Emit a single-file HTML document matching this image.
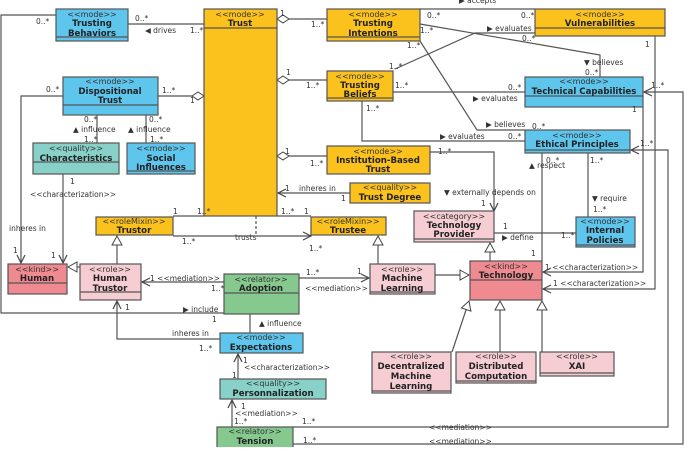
<!DOCTYPE html>
<html><head><meta charset="utf-8"><style>
html,body{margin:0;padding:0;background:#fff}
svg text{font-family:"DejaVu Sans","Liberation Sans",sans-serif;fill:#333}
.s{font-size:8px}
.n{font-size:8.6px;font-weight:bold;fill:#222}
.l{font-size:7.5px}
</style></head><body>
<svg width="685" height="447" viewBox="0 0 685 447" xmlns="http://www.w3.org/2000/svg">
<defs>
<marker id="a" markerWidth="10" markerHeight="10" refX="9" refY="5" orient="auto" markerUnits="userSpaceOnUse"><path d="M1,1 L9,5 L1,9" fill="none" stroke="#444" stroke-width="1.2"/></marker>
<marker id="t" markerWidth="12" markerHeight="12" refX="10" refY="6" orient="auto" markerUnits="userSpaceOnUse"><path d="M1,1 L10,6 L1,11 Z" fill="#fff" stroke="#444" stroke-width="1"/></marker>
<marker id="d" markerWidth="14" markerHeight="10" refX="13" refY="5" orient="auto" markerUnits="userSpaceOnUse"><path d="M1,5 L7,1 L13,5 L7,9 Z" fill="#fff" stroke="#444" stroke-width="1"/></marker>
</defs>
<g fill="none" stroke="#555" stroke-width="1.2">
<polyline points="56,15 1,15 1,313 224,313"/>
<line x1="128" y1="24" x2="204" y2="24"/>
<line x1="327" y1="19" x2="277" y2="19" marker-end="url(#d)"/>
<line x1="327" y1="80" x2="277" y2="80" marker-end="url(#d)"/>
<line x1="158" y1="96" x2="204" y2="96" marker-end="url(#d)"/>
<line x1="327" y1="156" x2="277" y2="156" marker-end="url(#d)"/>
<line x1="350" y1="193" x2="278" y2="193" marker-end="url(#a)"/>
<line x1="420" y1="9" x2="535" y2="9"/>
<polyline points="420,24 600,55 600,77"/>
<polyline points="395,69 475,33 535,33"/>
<polyline points="420,41 477,130 525,130"/>
<line x1="393" y1="92" x2="525" y2="92"/>
<polyline points="362,101 362,141 525,141"/>
<polyline points="430,152 494,152 494,211" marker-end="url(#a)"/>
<polyline points="643,107 643,272 543,272" marker-end="url(#a)"/>
<polyline points="655,36 655,289 543,289" marker-end="url(#a)"/>
<polyline points="293,427 668,427 668,150 631,150" marker-end="url(#a)"/>
<polyline points="293,444 683,444 683,92 644,92" marker-end="url(#a)"/>
<line x1="542" y1="153" x2="542" y2="261"/>
<line x1="494" y1="233" x2="576" y2="233"/>
<line x1="588" y1="153" x2="588" y2="217"/>
<line x1="173" y1="216" x2="204" y2="216"/>
<line x1="277" y1="216" x2="311" y2="216"/>
<line x1="256" y1="216" x2="256" y2="236" stroke-dasharray="3,2"/>
<line x1="173" y1="236" x2="311" y2="236" marker-end="url(#a)"/>
<line x1="117" y1="264" x2="117" y2="236" marker-end="url(#t)"/>
<line x1="80" y1="267" x2="68" y2="267" marker-end="url(#t)"/>
<polyline points="63,96 21,96 21,263" marker-end="url(#a)"/>
<line x1="63" y1="174" x2="63" y2="263" marker-end="url(#a)"/>
<line x1="97" y1="115" x2="97" y2="143"/>
<line x1="146" y1="115" x2="146" y2="143"/>
<line x1="224" y1="282" x2="142" y2="282" marker-end="url(#a)"/>
<line x1="299" y1="278" x2="369" y2="278" marker-end="url(#a)"/>
<line x1="378" y1="264" x2="378" y2="236" marker-end="url(#t)"/>
<line x1="435" y1="275" x2="469" y2="275" marker-end="url(#t)"/>
<line x1="490" y1="261" x2="490" y2="243" marker-end="url(#t)"/>
<line x1="452" y1="352" x2="469" y2="301" marker-end="url(#t)"/>
<line x1="500" y1="352" x2="500" y2="301" marker-end="url(#t)"/>
<line x1="542" y1="352" x2="542" y2="301" marker-end="url(#t)"/>
<line x1="250" y1="314" x2="250" y2="333"/>
<polyline points="220,339 117,339 117,301" marker-end="url(#a)"/>
<line x1="238" y1="379" x2="238" y2="354" marker-end="url(#a)"/>
<line x1="232" y1="427" x2="232" y2="400" marker-end="url(#a)"/>
</g>
<g stroke="#555" stroke-width="1.2">
<rect x="56" y="9" width="72" height="32" fill="#5ec5ec"/><line x1="56" y1="37" x2="128" y2="37"/>
<rect x="204" y="9" width="73" height="207" fill="#fbc21e"/><line x1="204" y1="28" x2="277" y2="28"/>
<rect x="327" y="9" width="93" height="32" fill="#fbc21e"/><line x1="327" y1="37" x2="420" y2="37"/>
<rect x="535" y="9" width="130" height="27" fill="#fbc21e"/><line x1="535" y1="28" x2="665" y2="28"/>
<rect x="63" y="77" width="95" height="38" fill="#5ec5ec"/><line x1="63" y1="105" x2="158" y2="105"/>
<rect x="327" y="71" width="66" height="30" fill="#fbc21e"/><line x1="327" y1="98" x2="393" y2="98"/>
<rect x="525" y="77" width="118" height="30" fill="#5ec5ec"/><line x1="525" y1="96" x2="643" y2="96"/>
<rect x="33" y="143" width="86" height="31" fill="#88d1c9"/><line x1="33" y1="162" x2="119" y2="162"/>
<rect x="127" y="143" width="68" height="31" fill="#5ec5ec"/><line x1="127" y1="171" x2="195" y2="171"/>
<rect x="327" y="146" width="103" height="28" fill="#fbc21e"/>
<rect x="525" y="130" width="105" height="23" fill="#5ec5ec"/><line x1="525" y1="150" x2="630" y2="150"/>
<rect x="350" y="183" width="80" height="20" fill="#fbc21e"/>
<rect x="96" y="217" width="77" height="18" fill="#fbc21e"/>
<rect x="311" y="217" width="75" height="18" fill="#fbc21e"/>
<rect x="414" y="211" width="80" height="31" fill="#f5cdd3"/><line x1="414" y1="239" x2="494" y2="239"/>
<rect x="576" y="217" width="59" height="30" fill="#5ec5ec"/><line x1="576" y1="245" x2="635" y2="245"/>
<rect x="8" y="264" width="59" height="30" fill="#ee8a90"/><line x1="8" y1="283" x2="67" y2="283"/>
<rect x="80" y="264" width="61" height="36" fill="#f5cdd3"/><line x1="80" y1="292" x2="141" y2="292"/>
<rect x="224" y="274" width="75" height="40" fill="#86c98f"/><line x1="224" y1="293" x2="299" y2="293"/>
<rect x="370" y="264" width="65" height="30" fill="#f5cdd3"/><line x1="370" y1="292" x2="435" y2="292"/>
<rect x="470" y="261" width="72" height="39" fill="#ee8a90"/><line x1="470" y1="280" x2="542" y2="280"/>
<rect x="220" y="333" width="83" height="20" fill="#5ec5ec"/>
<rect x="220" y="379" width="106" height="20" fill="#88d1c9"/>
<rect x="217" y="427" width="76" height="22" fill="#86c98f"/>
<rect x="372" y="352" width="79" height="41" fill="#f5cdd3"/><line x1="372" y1="391" x2="451" y2="391"/>
<rect x="456" y="352" width="80" height="31" fill="#f5cdd3"/><line x1="456" y1="381" x2="536" y2="381"/>
<rect x="540" y="352" width="74" height="24" fill="#f5cdd3"/><line x1="540" y1="373" x2="614" y2="373"/>
</g>
<g text-anchor="middle">
<text class="s" x="92" y="17">&lt;&lt;mode&gt;&gt;</text><text class="n" x="92" y="26">Trusting</text><text class="n" x="92" y="36">Behaviors</text>
<text class="s" x="240" y="17">&lt;&lt;mode&gt;&gt;</text><text class="n" x="240" y="26">Trust</text>
<text class="s" x="373" y="17">&lt;&lt;mode&gt;&gt;</text><text class="n" x="373" y="26">Trusting</text><text class="n" x="373" y="36">Intentions</text>
<text class="s" x="600" y="17">&lt;&lt;mode&gt;&gt;</text><text class="n" x="600" y="26">Vulnerabilities</text>
<text class="s" x="110" y="84">&lt;&lt;mode&gt;&gt;</text><text class="n" x="110" y="94">Dispositional</text><text class="n" x="110" y="103">Trust</text>
<text class="s" x="360" y="79">&lt;&lt;mode&gt;&gt;</text><text class="n" x="360" y="88">Trusting</text><text class="n" x="360" y="97">Beliefs</text>
<text class="s" x="584" y="84">&lt;&lt;mode&gt;&gt;</text><text class="n" x="584" y="94">Technical Capabilities</text>
<text class="s" x="76" y="151">&lt;&lt;quality&gt;&gt;</text><text class="n" x="76" y="161">Characteristics</text>
<text class="s" x="161" y="151">&lt;&lt;mode&gt;&gt;</text><text class="n" x="161" y="161">Social</text><text class="n" x="161" y="170">Influences</text>
<text class="s" x="378" y="154">&lt;&lt;mode&gt;&gt;</text><text class="n" x="378" y="163">Institution-Based</text><text class="n" x="378" y="172">Trust</text>
<text class="s" x="577" y="138">&lt;&lt;mode&gt;&gt;</text><text class="n" x="577" y="147">Ethical Principles</text>
<text class="s" x="390" y="190">&lt;&lt;quality&gt;&gt;</text><text class="n" x="390" y="200">Trust Degree</text>
<text class="s" x="134" y="224">&lt;&lt;roleMixin&gt;&gt;</text><text class="n" x="134" y="233">Trustor</text>
<text class="s" x="348" y="224">&lt;&lt;roleMixin&gt;&gt;</text><text class="n" x="348" y="233">Trustee</text>
<text class="s" x="454" y="219">&lt;&lt;category&gt;&gt;</text><text class="n" x="454" y="228">Technology</text><text class="n" x="454" y="237">Provider</text>
<text class="s" x="605" y="224">&lt;&lt;mode&gt;&gt;</text><text class="n" x="605" y="233">Internal</text><text class="n" x="605" y="243">Policies</text>
<text class="s" x="37" y="272">&lt;&lt;kind&gt;&gt;</text><text class="n" x="37" y="281">Human</text>
<text class="s" x="110" y="272">&lt;&lt;role&gt;&gt;</text><text class="n" x="110" y="281">Human</text><text class="n" x="110" y="291">Trustor</text>
<text class="s" x="261" y="282">&lt;&lt;relator&gt;&gt;</text><text class="n" x="261" y="291">Adoption</text>
<text class="s" x="402" y="272">&lt;&lt;role&gt;&gt;</text><text class="n" x="402" y="281">Machine</text><text class="n" x="402" y="291">Learning</text>
<text class="s" x="506" y="269">&lt;&lt;kind&gt;&gt;</text><text class="n" x="506" y="278">Technology</text>
<text class="s" x="261" y="340">&lt;&lt;mode&gt;&gt;</text><text class="n" x="261" y="350">Expectations</text>
<text class="s" x="273" y="386">&lt;&lt;quality&gt;&gt;</text><text class="n" x="273" y="396">Personnalization</text>
<text class="s" x="255" y="434">&lt;&lt;relator&gt;&gt;</text><text class="n" x="255" y="444">Tension</text>
<text class="s" x="411" y="359">&lt;&lt;role&gt;&gt;</text><text class="n" x="411" y="369">Decentralized</text><text class="n" x="411" y="379">Machine</text><text class="n" x="411" y="389">Learning</text>
<text class="s" x="496" y="359">&lt;&lt;role&gt;&gt;</text><text class="n" x="496" y="369">Distributed</text><text class="n" x="496" y="379">Computation</text>
<text class="s" x="577" y="359">&lt;&lt;role&gt;&gt;</text><text class="n" x="577" y="369">XAI</text>
</g>
<g class="l">
<text x="36" y="24">0..*</text><text x="135" y="21">0..*</text><text x="145" y="33">◀ drives</text><text x="190" y="33">1..*</text>
<text x="280" y="16">1</text><text x="311" y="27">1..*</text>
<text x="286" y="75">1</text><text x="306" y="88">1..*</text>
<text x="46" y="92">0..*</text><text x="162" y="93">1..*</text><text x="190" y="103">1</text>
<text x="84" y="122">0..*</text><text x="73" y="132">▲ influence</text><text x="84" y="142">1..*</text>
<text x="149" y="122">0..*</text><text x="128" y="132">▲ influence</text><text x="150" y="142">1..*</text>
<text x="70" y="184">1</text><text x="30" y="197">&lt;&lt;characterization&gt;&gt;</text>
<text x="285" y="154">1</text><text x="310" y="166">1..*</text>
<text x="285" y="191">1</text><text x="299" y="191">inheres in</text><text x="341" y="201">1</text>
<text x="459" y="3">▶ accepts</text><text x="427" y="18">0..*</text><text x="521" y="18">0..*</text>
<text x="420" y="33">1..*</text><text x="487" y="31">▶ evaluates</text><text x="522" y="41">0..*</text>
<text x="407" y="48">1..*</text><text x="389" y="69">1..*</text>
<text x="584" y="65">▼ believes</text><text x="585" y="75">0..*</text><text x="645" y="47">1</text>
<text x="395" y="88">1..*</text><text x="508" y="90">0..*</text><text x="473" y="101">▶ evaluates</text><text x="632" y="112">1</text>
<text x="366" y="111">1..*</text>
<text x="486" y="127">▶ believes</text><text x="532" y="129">0..*</text>
<text x="440" y="139">▶ evaluates</text><text x="508" y="139">0..*</text><text x="651" y="88">1..*</text><text x="640" y="146">1..*</text>
<text x="438" y="154">1..*</text><text x="444" y="195">▼ externally depends on</text><text x="481" y="206">1</text>
<text x="546" y="163">0..*</text><text x="529" y="168">▲ respect</text><text x="590" y="163">1..*</text>
<text x="592" y="201">▼ require</text><text x="593" y="212">1..*</text>
<text x="503" y="229">1</text><text x="502" y="240">▶ define</text><text x="561" y="238">1..*</text>
<text x="531" y="256">1</text>
<text x="173" y="214">1</text><text x="197" y="214">1..*</text><text x="281" y="214">1..*</text><text x="304" y="214">1</text>
<text x="9" y="231">inheres in</text><text x="13" y="253">1</text><text x="51" y="258">1</text>
<text x="182" y="244">1..*</text><text x="235" y="240">trusts</text><text x="309" y="251">1..*</text>
<text x="150" y="281">1 &lt;&lt;mediation&gt;&gt;</text><text x="211" y="291">1..*</text>
<text x="306" y="275">1..*</text><text x="305" y="291">&lt;&lt;mediation&gt;&gt;</text><text x="357" y="274">1</text>
<text x="183" y="312">▶ include</text><text x="125" y="310">1</text><text x="212" y="322">1</text>
<text x="259" y="326">▲ influence</text>
<text x="172" y="336">inheres in</text><text x="199" y="351">1..*</text>
<text x="243" y="363">1</text><text x="244" y="370">&lt;&lt;characterization&gt;&gt;</text><text x="232" y="378">1</text>
<text x="241" y="409">1</text><text x="235" y="416">&lt;&lt;mediation&gt;&gt;</text><text x="234" y="424">1..*</text>
<text x="302" y="424">1..*</text><text x="303" y="443">1..*</text>
<text x="545" y="270">1 &lt;&lt;characterization&gt;&gt;</text><text x="553" y="286">1 &lt;&lt;characterization&gt;&gt;</text>
<text x="429" y="430">&lt;&lt;mediation&gt;&gt;</text><text x="429" y="444">&lt;&lt;mediation&gt;&gt;</text>
</g>
</svg>
</body></html>
